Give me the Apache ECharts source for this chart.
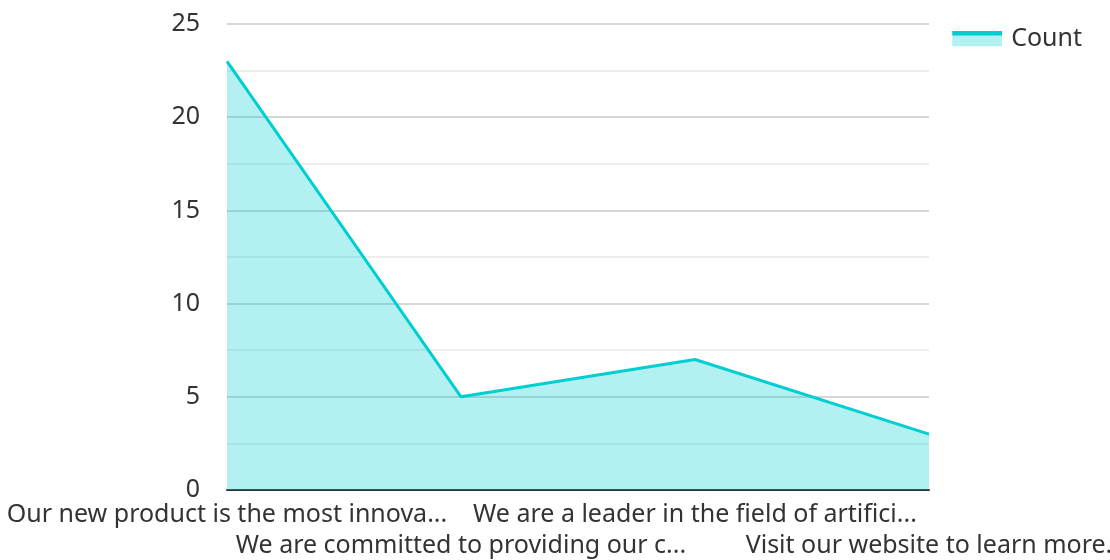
<!DOCTYPE html>
<html>
   <head>
       <meta charset="utf-8">
   </head>
   <body style="margin:0;">
       <div id="container" style="height: 560px;width: 1110px;"></div>
   </body>
</html>
<script type="text/javascript" src="https://cdn.jsdelivr.net/npm/echarts@6/dist/echarts.min.js"></script>
<script type="text/javascript">
    // 数据
    const categories = [
        'Our new product is the most innova...',
        'We are committed to providing our c...',
        'We are a leader in the field of artifici...',
        'Visit our website to learn more.'
    ];
    const counts = [23, 5, 7, 3];
    const yTicks = [0, 5, 10, 15, 20, 25];

    drawChart();
    function drawChart() {
        const lineColor = '#00ced1';
        const areaColor = '#b3f0f1';
        const iconSvg = '<svg xmlns="http://www.w3.org/2000/svg" width="50" height="16">' +
            '<rect x="0" y="4" width="50" height="12" fill="' + areaColor + '"/>' +
            '<rect x="0" y="0" width="50" height="5" fill="' + lineColor + '"/></svg>';
        const icon = 'image://data:image/svg+xml;charset=utf-8,' + encodeURIComponent(iconSvg);
        const dom = document.getElementById("container");
        const myChart = echarts.init(dom);
        const option = {
            textStyle: { fontFamily: 'Noto Sans' },
            legend: {
                right: 23,
                top: 21,
                itemWidth: 50,
                itemHeight: 16,
                itemGap: 10,
                textStyle: { fontSize: 25, color: '#333', padding: [0, 0, 0, 4] },
                data: [{ name: 'Count', icon: icon }]
            },
            grid: {
                left: 227,
                right: 181,
                top: 24,
                bottom: 70,
                outerBoundsMode: 'none'
            },
            xAxis: {
                type: 'category',
                boundaryGap: false,
                data: categories,
                axisLine: { lineStyle: { color: '#333', width: 2 } },
                axisTick: { show: false },
                axisLabel: {
                    interval: 0,
                    fontSize: 25,
                    color: '#333',
                    margin: 9,
                    lineHeight: 31,
                    formatter: function (value, index) {
                        return index % 2 === 1 ? '\n' + value : value;
                    }
                }
            },
            yAxis: {
                type: 'value',
                min: yTicks[0],
                max: yTicks[yTicks.length - 1],
                interval: 5,
                axisLine: { show: false },
                axisTick: { show: false },
                axisLabel: { fontSize: 25, color: '#333', margin: 27 },
                splitLine: { lineStyle: { color: '#c8c8c8', width: 1.5 } },
                minorTick: { show: false, splitNumber: 2 },
                minorSplitLine: { show: true, lineStyle: { color: '#e8e8e8', width: 1.5 } }
            },
            series: [
                {
                    name: 'Count',
                    type: 'line',
                    data: counts,
                    symbol: 'none',
                    lineStyle: { color: lineColor, width: 3 },
                    itemStyle: { color: lineColor },
                    areaStyle: { color: lineColor, opacity: 0.3 }
                }
            ]
        };
        myChart.setOption(option, true);
    }
</script>
